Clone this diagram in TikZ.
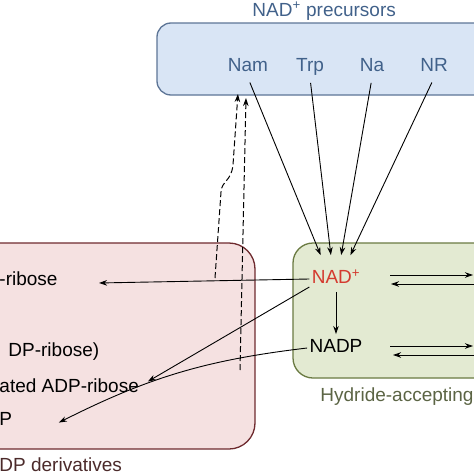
\documentclass[tikz,border=0pt]{standalone}
\usepackage{fontspec}
\setmainfont{Liberation Sans}
\usetikzlibrary{positioning, calc}
\usetikzlibrary{arrows.meta}

\definecolor{precfill}{HTML}{D9E5F5}
\definecolor{precline}{HTML}{5D7596}
\definecolor{prectext}{HTML}{41618A}
\definecolor{derivfill}{HTML}{F5E1E1}
\definecolor{derivline}{HTML}{6E2A2E}
\definecolor{derivtext}{HTML}{4B2A2A}
\definecolor{hydfill}{HTML}{E3EAD2}
\definecolor{hydline}{HTML}{6A7A42}
\definecolor{hydtext}{HTML}{5B6444}
\definecolor{nadred}{HTML}{D43A2F}

\tikzset{
	precbox/.style={draw=precline, fill=precfill, line width=1.3pt, rounded corners=14pt},
	derivbox/.style={draw=derivline, fill=derivfill, line width=1.3pt, rounded corners=26pt},
	hydbox/.style={draw=hydline, fill=hydfill, line width=1.3pt, rounded corners=20pt},
	prec/.style={text=prectext, text height=13pt, text depth=4pt, inner sep=2pt},
	cof/.style={text height=13pt, text depth=4pt, inner sep=2pt},
	deriv/.style={anchor=base west, inner sep=0pt},
	boxlabel/.style={anchor=base west, inner sep=0pt},
	salvage/.style={->, dashed, dash pattern=on 6pt off 3pt, line width=1pt}
}

\begin{document}
\begin{tikzpicture}[x=1pt, y=-1pt, node distance=62pt, line width=0.9pt, >={Stealth[length=8pt, width=5.5pt]}, shorten >=1pt,
	font=\fontsize{19}{22}\selectfont]
	\useasboundingbox (0,0) rectangle (474,474);
	\clip (0,0) rectangle (474,474);

	\draw[precbox]  	(157,23)  rectangle (520,95);
	\draw[derivbox] 	(-40,243) rectangle (255,449);
	\draw[hydbox]   	(293,243) rectangle (520,378);

	\node[boxlabel, text=prectext] 	(ptitle)  at (252,16)  	{NAD\textsuperscript{+} precursors};
	\node[boxlabel, text=derivtext]	(dtitle)  at (-1,471)  	{DP derivatives};
	\node[boxlabel, text=hydtext]  	(htitle)  at (320,401) 	{Hydride-accepting};

	\node[prec]   	(Nam)                  	at (248,67) 	{Nam};
	\node[prec]   	(Trp)  [right of=Nam]  	{Trp};
	\node[prec]   	(Na)   [right of=Trp]  	{Na};
	\node[prec]   	(NR)   [right of=Na]   	{NR};

	\node[cof, text=nadred] 	(NAD)  at (336,279) 	{NAD\textsuperscript{+}};
	\node[cof]           	(NADP) [below of=NAD, node distance=69pt] 	{NADP};

	\node[deriv] 	(adpr)  at (-1,285) 	{-ribose};
	\node[deriv] 	(padpr) at (8,356)  	{DP-ribose)};
	\node[deriv] 	(oadpr) at (-1,392) 	{ated ADP-ribose};
	\node[deriv] 	(naadp) at (-1,425) 	{P};

	\coordinate (tadpr)  at (98,283);
	\coordinate (toadpr) at (147,382);
	\coordinate (tnaadp) at (58,423);
	\coordinate (dA) at (215,278);
	\coordinate (dB) at (240,370);
	\coordinate (tA) at (238,93);
	\coordinate (tB) at (246,97);
	\coordinate (rA) at (390,275);
	\coordinate (rB) at (390,284);
	\coordinate (rC) at (390,346);
	\coordinate (rD) at (392,355);
	\coordinate (eA) at (474,275);
	\coordinate (eB) at (474,284);
	\coordinate (eC) at (474,346);
	\coordinate (eD) at (474,355);

	\path[->, shorten <=5pt]
			(Nam.south) edge[] 	([xshift=-15pt, yshift=12pt]NAD.north)
			(Trp.south) edge[] 	([xshift=-5pt, yshift=12pt]NAD.north)
			(Na.south)  edge[] 	([xshift=5pt, yshift=12pt]NAD.north)
			(NR.south)  edge[] 	([xshift=14pt, yshift=12pt]NAD.north)
			;
	\path[->]
			(NAD) edge[shorten <=2pt, shorten >=3pt] 	(NADP)
			(NAD.west) edge[] 	(tadpr)
			([yshift=-8pt]NAD.west) edge[] 	(toadpr)
			(NADP.west) edge[bend right=10] 	(tnaadp)
			(rA) edge[] 	(eA)
			(eB) edge[] 	(rB)
			(rC) edge[] 	(eC)
			(eD) edge[] 	(rD)
			;
	\draw[salvage]
			(dA) -- (221,192) .. controls (222,180) and (231,182) .. (233,165) -- (tA);
	\draw[salvage] (dB) -- (tB);
\end{tikzpicture}
\end{document}
